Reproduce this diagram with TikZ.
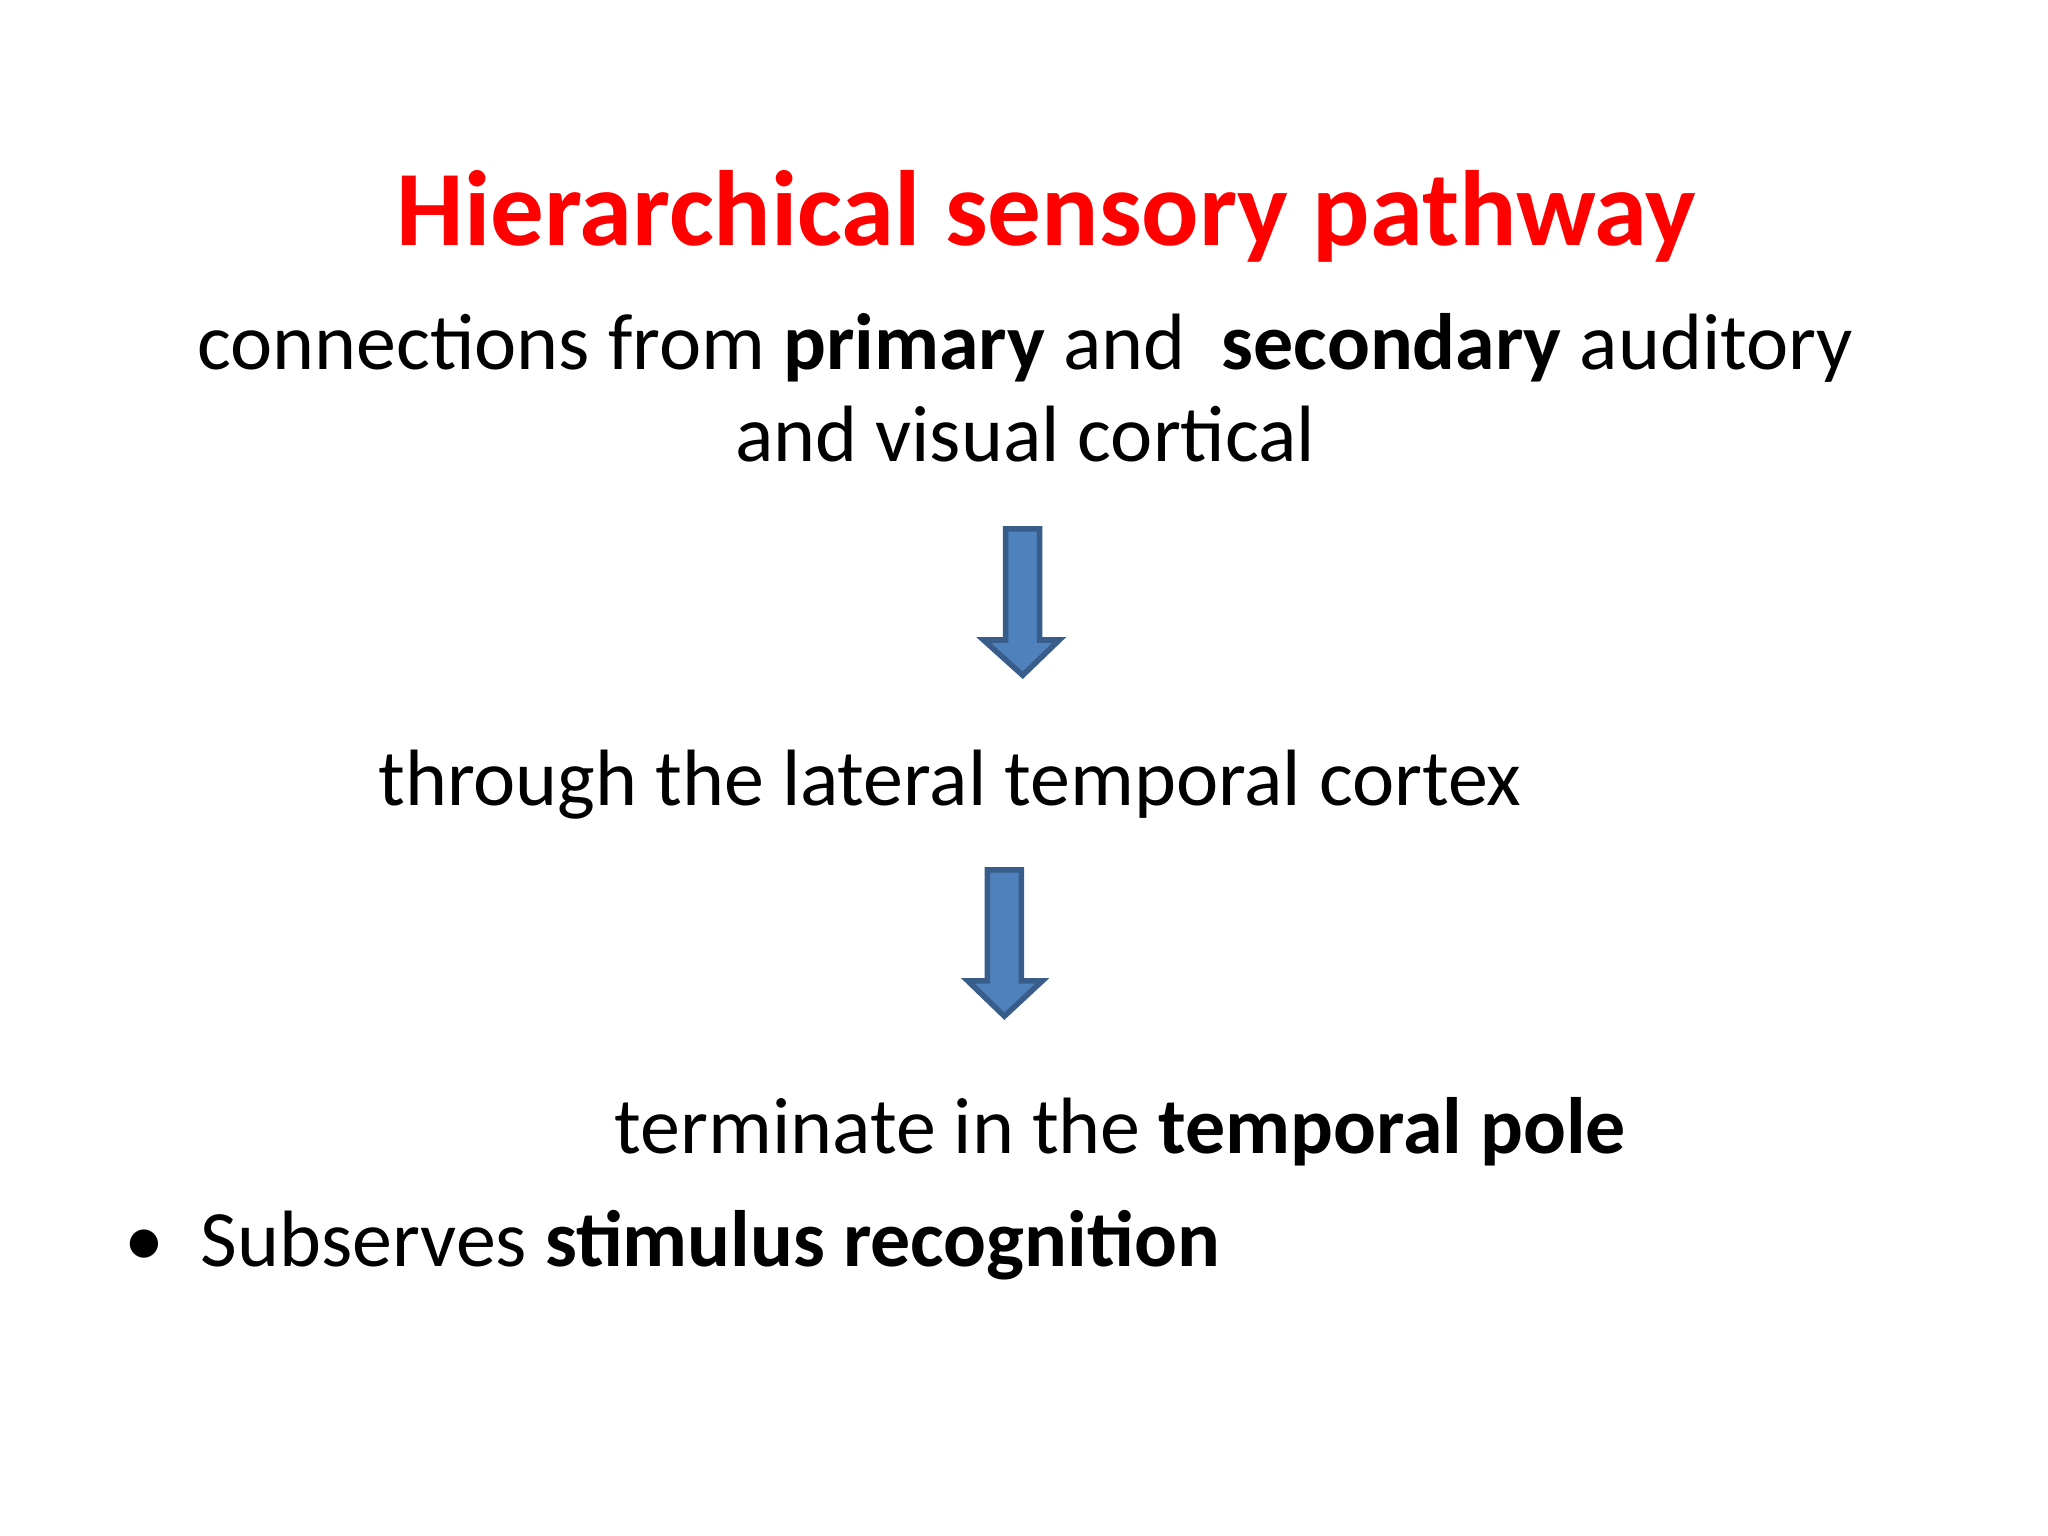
\documentclass[tikz,border=0pt]{standalone}
\usepackage{fontspec}
\setmainfont{Carlito}
\definecolor{arrfill}{HTML}{4F81BD}
\definecolor{arrline}{HTML}{385D8A}
\begin{document}
\begin{tikzpicture}[x=0.01cm,y=-0.01cm,
  body/.style={inner sep=0pt,font=\fontsize{17.4}{20}\selectfont},
  blockarrow/.style={fill=arrfill,draw=arrline,line width=1.2pt,line join=miter}]
\useasboundingbox (0,0) rectangle (1568,1176);
\fill[white] (0,0) rectangle (1568,1176);
\node[inner sep=0pt,anchor=base,text=red,font=\fontsize{23.3}{26}\selectfont\bfseries] (title) at (801,188) {Hierarchical sensory pathway};
\node[body,anchor=base] (l1) at (785,283) {connections from \textbf{primary} and\ \ \textbf{secondary} auditory};
\node[body,anchor=base] (l2) at (785,353) {and visual cortical};
\draw[blockarrow] (770,405) -- (796,405) -- (796,490) -- (811,490) -- (783,517) -- (753,490) -- (770,490) -- cycle;
\node[body,anchor=base west] (l3) at (289,617) {through the lateral temporal cortex};
\draw[blockarrow] (756,666) -- (782,666) -- (782,751) -- (798,751) -- (769,778) -- (741,751) -- (756,751) -- cycle;
\node[body,anchor=base west] (l4) at (470,883) {terminate in the \textbf{temporal pole}};
\node[body,anchor=base west] (b) at (95,970) {•};
\node[body,anchor=base west] (l5) at (153,970) {Subserves \textbf{stimulus recognition}};
\end{tikzpicture}
\end{document}
